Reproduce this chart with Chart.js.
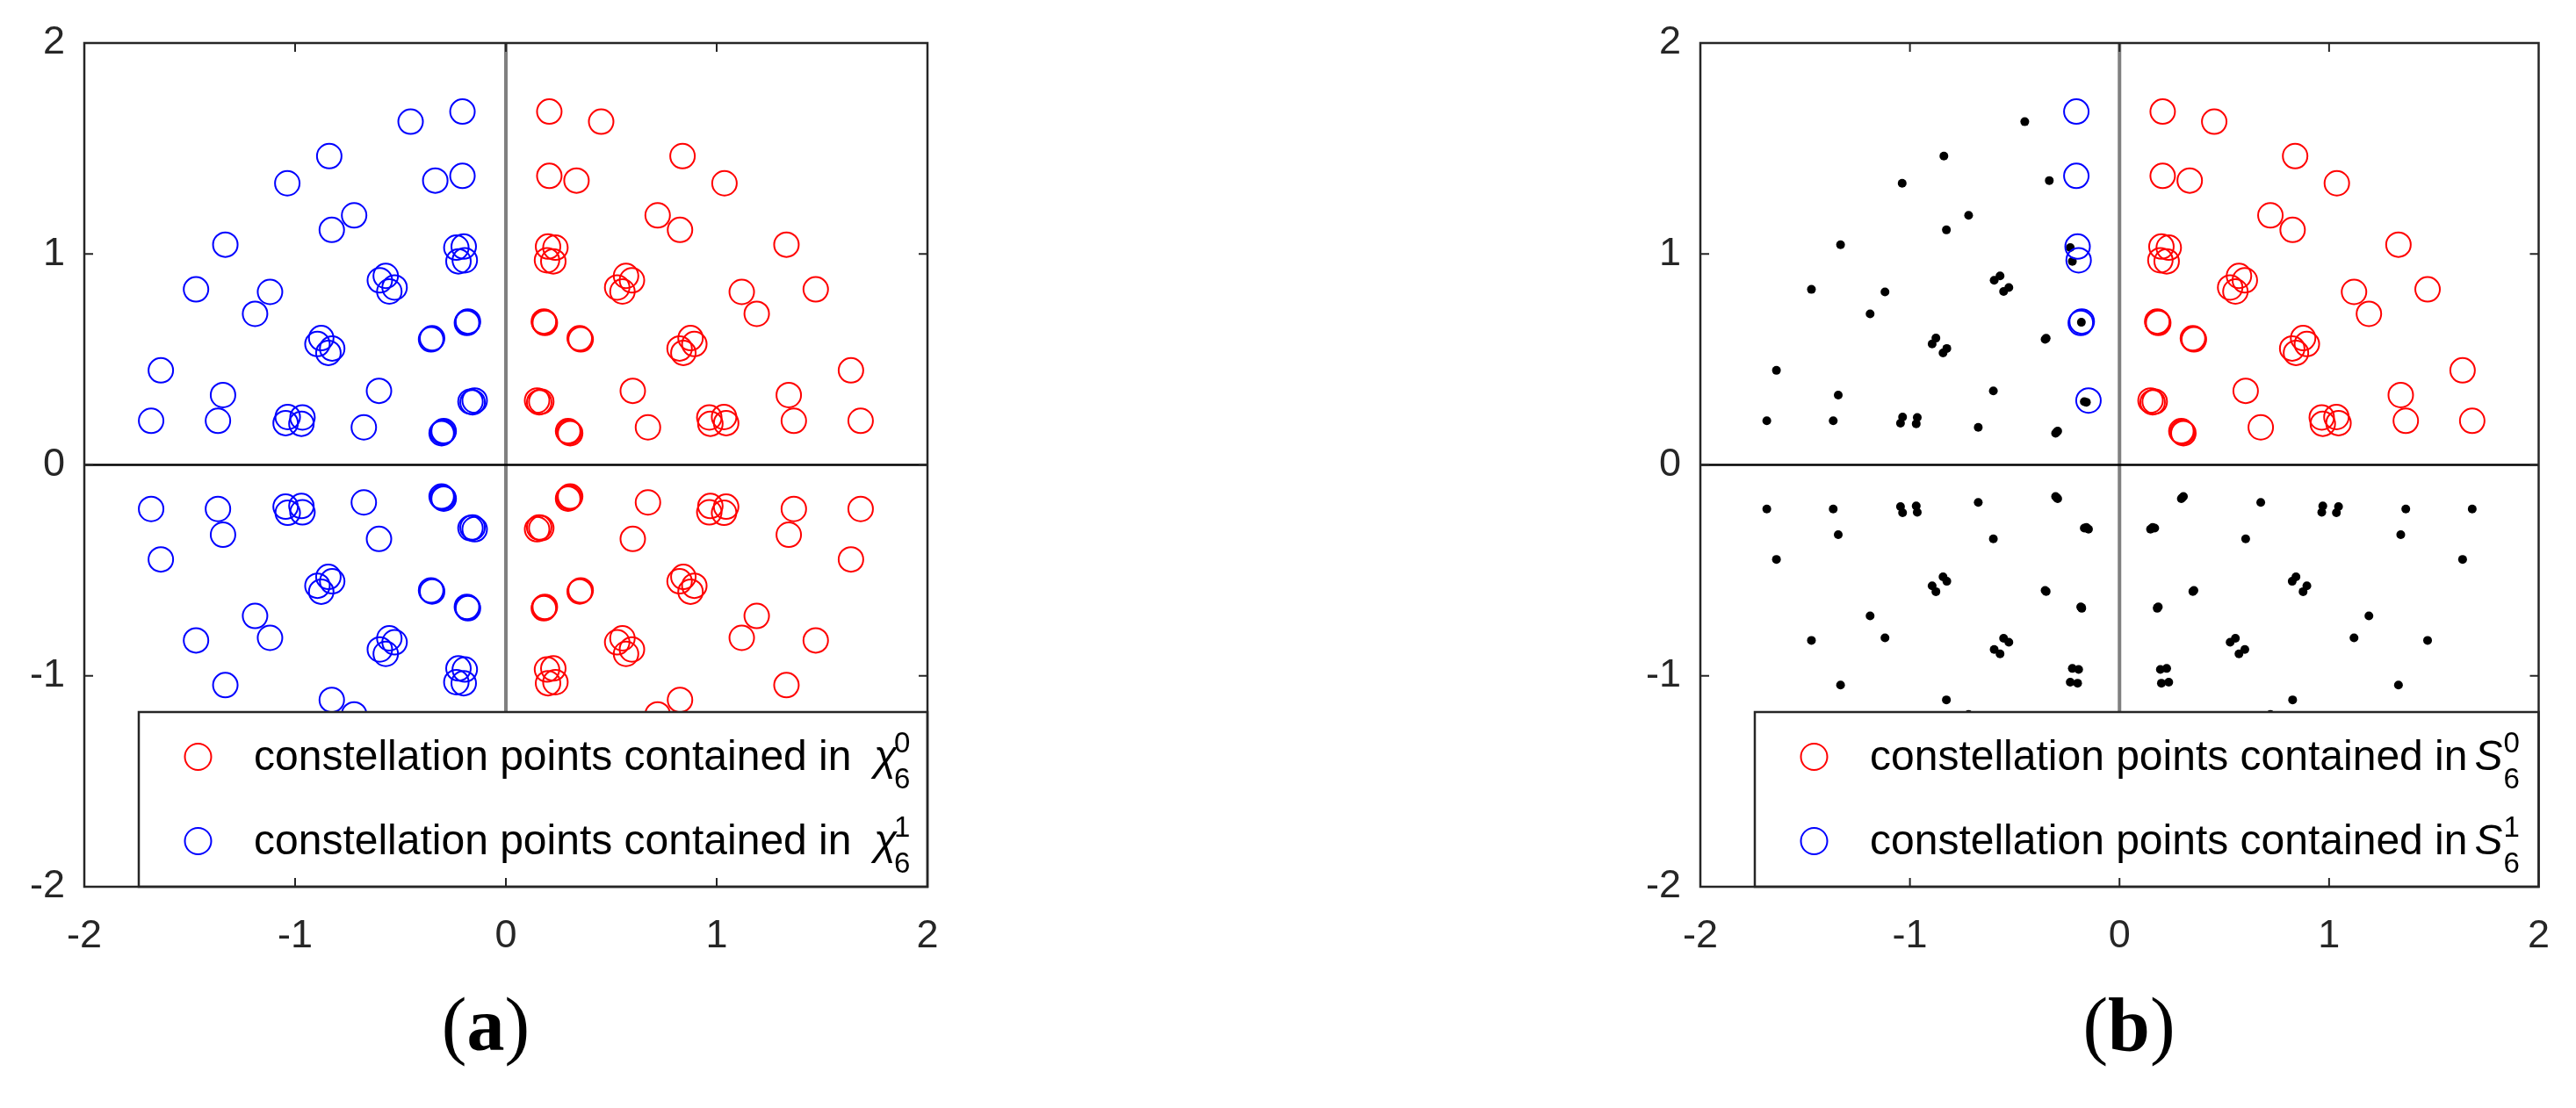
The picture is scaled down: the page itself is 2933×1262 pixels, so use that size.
<!DOCTYPE html>
<html lang="en">
<head>
  <meta charset="UTF-8">
  <title>Constellation points</title>
  <script src="https://cdn.jsdelivr.net/npm/chart.js"></script>
  <style>
    html, body {
      margin: 0;
      padding: 0;
      background: #fff;
      overflow: hidden;
    }
    body {
      width: 2933px;
      height: 1262px;
      position: relative;
    }
    canvas {
      position: absolute;
      top: 0;
    }
    #chartA { left: 0; }
    #chartB { left: 1840px; }
    .caption {
      position: absolute;
      top: 1119px;
      font-family: "Liberation Serif", "Times New Roman", serif;
      font-size: 86px;
      line-height: 96px;
      transform: translateX(-50%);
      color: #000;
    }
  </style>
</head>
<body>
  <canvas id="chartA" width="1100" height="1110"></canvas>
  <canvas id="chartB" width="1093" height="1110"></canvas>
  <div class="caption" style="left:553px">(<b>a</b>)</div>
  <div class="caption" style="left:2424px">(<b>b</b>)</div>

  <script>
    // axis ticks
    const tickValues = [-2, -1, 0, 1, 2];

    // (a) points in chi_6^0 (red) : upper right, then lower right
    const chi0X = [
      0.206, 0.452, 0.838, 1.037, 0.206, 0.335, 0.720, 0.826, 1.331, 1.470, 1.119, 1.190,
      0.200, 0.235, 0.195, 0.225, 0.570, 0.598, 0.528, 0.553, 0.180, 0.185, 0.182, 0.350, 0.355,
      0.876, 0.894, 0.824, 0.842, 0.602, 0.674, 0.965, 0.970, 1.035, 1.045,
      1.342, 1.366, 1.637, 1.683, 0.148, 0.158, 0.168, 0.295, 0.300, 0.305,
      0.206, 0.452, 0.838, 1.037, 0.206, 0.335, 0.720, 0.826, 1.331, 1.470, 1.119, 1.190,
      0.200, 0.235, 0.195, 0.225, 0.570, 0.598, 0.528, 0.553, 0.180, 0.185, 0.182, 0.350, 0.355,
      0.876, 0.894, 0.824, 0.842, 0.602, 0.674, 0.965, 0.970, 1.035, 1.045,
      1.342, 1.366, 1.637, 1.683, 0.148, 0.158, 0.168, 0.295, 0.300, 0.305
    ];
    const chi0Y = [
      1.675, 1.627, 1.464, 1.335, 1.370, 1.348, 1.183, 1.114, 1.044, 0.832, 0.820, 0.716,
      1.035, 1.030, 0.970, 0.965, 0.896, 0.875, 0.841, 0.822, 0.680, 0.673, 0.676, 0.600, 0.595,
      0.601, 0.573, 0.552, 0.531, 0.351, 0.178, 0.225, 0.195, 0.227, 0.198,
      0.331, 0.209, 0.448, 0.209, 0.305, 0.297, 0.300, 0.160, 0.155, 0.150,
      -1.675, -1.627, -1.464, -1.335, -1.370, -1.348, -1.183, -1.114, -1.044, -0.832, -0.820, -0.716,
      -1.035, -1.030, -0.970, -0.965, -0.896, -0.875, -0.841, -0.822, -0.680, -0.673, -0.676, -0.600, -0.595,
      -0.601, -0.573, -0.552, -0.531, -0.351, -0.178, -0.225, -0.195, -0.227, -0.198,
      -0.331, -0.209, -0.448, -0.209, -0.305, -0.297, -0.300, -0.160, -0.155, -0.150
    ];

    // (a) points in chi_6^1 (blue) : upper left, then lower left
    const chi1X = [
      -0.206, -0.452, -0.838, -1.037, -0.206, -0.335, -0.720, -0.826, -1.331, -1.470, -1.119, -1.190,
      -0.200, -0.235, -0.195, -0.225, -0.570, -0.598, -0.528, -0.553, -0.180, -0.185, -0.182, -0.350, -0.355,
      -0.876, -0.894, -0.824, -0.842, -0.602, -0.674, -0.965, -0.970, -1.035, -1.045,
      -1.342, -1.366, -1.637, -1.683, -0.148, -0.158, -0.168, -0.295, -0.300, -0.305,
      -0.206, -0.452, -0.838, -1.037, -0.206, -0.335, -0.720, -0.826, -1.331, -1.470, -1.119, -1.190,
      -0.200, -0.235, -0.195, -0.225, -0.570, -0.598, -0.528, -0.553, -0.180, -0.185, -0.182, -0.350, -0.355,
      -0.876, -0.894, -0.824, -0.842, -0.602, -0.674, -0.965, -0.970, -1.035, -1.045,
      -1.342, -1.366, -1.637, -1.683, -0.148, -0.158, -0.168, -0.295, -0.300, -0.305
    ];
    const chi1Y = [
      1.675, 1.627, 1.464, 1.335, 1.370, 1.348, 1.183, 1.114, 1.044, 0.832, 0.820, 0.716,
      1.035, 1.030, 0.970, 0.965, 0.896, 0.875, 0.841, 0.822, 0.680, 0.673, 0.676, 0.600, 0.595,
      0.601, 0.573, 0.552, 0.531, 0.351, 0.178, 0.225, 0.195, 0.227, 0.198,
      0.331, 0.209, 0.448, 0.209, 0.305, 0.297, 0.300, 0.160, 0.155, 0.150,
      -1.675, -1.627, -1.464, -1.335, -1.370, -1.348, -1.183, -1.114, -1.044, -0.832, -0.820, -0.716,
      -1.035, -1.030, -0.970, -0.965, -0.896, -0.875, -0.841, -0.822, -0.680, -0.673, -0.676, -0.600, -0.595,
      -0.601, -0.573, -0.552, -0.531, -0.351, -0.178, -0.225, -0.195, -0.227, -0.198,
      -0.331, -0.209, -0.448, -0.209, -0.305, -0.297, -0.300, -0.160, -0.155, -0.150
    ];

    // (b) points in S_6^0 (red)
    const s0X = [
      0.206, 0.452, 0.838, 1.037, 0.206, 0.335, 0.720, 0.826, 1.331, 1.470, 1.119, 1.190,
      0.200, 0.235, 0.195, 0.225, 0.570, 0.598, 0.528, 0.553, 0.180, 0.185, 0.182, 0.350, 0.355,
      0.876, 0.894, 0.824, 0.842, 0.602, 0.674, 0.965, 0.970, 1.035, 1.045,
      1.342, 1.366, 1.637, 1.683, 0.148, 0.158, 0.168, 0.295, 0.300, 0.305
    ];
    const s0Y = [
      1.675, 1.627, 1.464, 1.335, 1.370, 1.348, 1.183, 1.114, 1.044, 0.832, 0.820, 0.716,
      1.035, 1.030, 0.970, 0.965, 0.896, 0.875, 0.841, 0.822, 0.680, 0.673, 0.676, 0.600, 0.595,
      0.601, 0.573, 0.552, 0.531, 0.351, 0.178, 0.225, 0.195, 0.227, 0.198,
      0.331, 0.209, 0.448, 0.209, 0.305, 0.297, 0.300, 0.160, 0.155, 0.150
    ];

    // (b) points in S_6^1 (blue)
    const s1X = [-0.206, -0.206, -0.200, -0.195, -0.180, -0.185, -0.148];
    const s1Y = [1.675, 1.370, 1.035, 0.970, 0.680, 0.673, 0.305];

    // (b) remaining constellation points (black dots)
    const restX = [
      -0.452, -0.838, -1.037, -0.335, -0.720, -0.826, -1.331, -1.470, -1.119, -1.190,
      -0.235, -0.225, -0.570, -0.598, -0.528, -0.553, -0.182, -0.350, -0.355,
      -0.876, -0.894, -0.824, -0.842, -0.602, -0.674, -0.965, -0.970, -1.035, -1.045,
      -1.342, -1.366, -1.637, -1.683, -0.158, -0.168, -0.295, -0.300, -0.305,
      -0.206, -0.452, -0.838, -1.037, -0.206, -0.335, -0.720, -0.826, -1.331, -1.470, -1.119, -1.190,
      -0.200, -0.235, -0.195, -0.225, -0.570, -0.598, -0.528, -0.553, -0.180, -0.185, -0.182, -0.350, -0.355,
      -0.876, -0.894, -0.824, -0.842, -0.602, -0.674, -0.965, -0.970, -1.035, -1.045,
      -1.342, -1.366, -1.637, -1.683, -0.148, -0.158, -0.168, -0.295, -0.300, -0.305,
      0.206, 0.452, 0.838, 1.037, 0.206, 0.335, 0.720, 0.826, 1.331, 1.470, 1.119, 1.190,
      0.200, 0.235, 0.195, 0.225, 0.570, 0.598, 0.528, 0.553, 0.180, 0.185, 0.182, 0.350, 0.355,
      0.876, 0.894, 0.824, 0.842, 0.602, 0.674, 0.965, 0.970, 1.035, 1.045,
      1.342, 1.366, 1.637, 1.683, 0.148, 0.158, 0.168, 0.295, 0.300, 0.305
    ];
    const restY = [
      1.627, 1.464, 1.335, 1.348, 1.183, 1.114, 1.044, 0.832, 0.820, 0.716,
      1.030, 0.965, 0.896, 0.875, 0.841, 0.822, 0.676, 0.600, 0.595,
      0.601, 0.573, 0.552, 0.531, 0.351, 0.178, 0.225, 0.195, 0.227, 0.198,
      0.331, 0.209, 0.448, 0.209, 0.297, 0.300, 0.160, 0.155, 0.150,
      -1.675, -1.627, -1.464, -1.335, -1.370, -1.348, -1.183, -1.114, -1.044, -0.832, -0.820, -0.716,
      -1.035, -1.030, -0.970, -0.965, -0.896, -0.875, -0.841, -0.822, -0.680, -0.673, -0.676, -0.600, -0.595,
      -0.601, -0.573, -0.552, -0.531, -0.351, -0.178, -0.225, -0.195, -0.227, -0.198,
      -0.331, -0.209, -0.448, -0.209, -0.305, -0.297, -0.300, -0.160, -0.155, -0.150,
      -1.675, -1.627, -1.464, -1.335, -1.370, -1.348, -1.183, -1.114, -1.044, -0.832, -0.820, -0.716,
      -1.035, -1.030, -0.970, -0.965, -0.896, -0.875, -0.841, -0.822, -0.680, -0.673, -0.676, -0.600, -0.595,
      -0.601, -0.573, -0.552, -0.531, -0.351, -0.178, -0.225, -0.195, -0.227, -0.198,
      -0.331, -0.209, -0.448, -0.209, -0.305, -0.297, -0.300, -0.160, -0.155, -0.150
    ];

    const legendA = [
      { color: "#ff0000", text: "constellation points contained in", sym: "χ", sup: "0", sub: "6" },
      { color: "#0000ff", text: "constellation points contained in", sym: "χ", sup: "1", sub: "6" }
    ];
    const legendB = [
      { color: "#ff0000", text: "constellation points contained in", sym: "S", sup: "0", sub: "6" },
      { color: "#0000ff", text: "constellation points contained in", sym: "S", sup: "1", sub: "6" }
    ];

    const SANS = '"Liberation Sans", Arial, Helvetica, sans-serif';
    const toPoints = (xs, ys) => xs.map((x, i) => ({ x: x, y: ys[i] }));

    // matlab-like frame : zero lines, box, inward ticks, legend box
    const matlabFrame = {
      id: "matlabFrame",
      beforeDatasetsDraw(chart) {
        const { ctx, chartArea: a, scales } = chart;
        const x0 = scales.x.getPixelForValue(0);
        const y0 = scales.y.getPixelForValue(0);
        ctx.save();
        ctx.strokeStyle = "#808080";
        ctx.lineWidth = 4;
        ctx.beginPath();
        ctx.moveTo(x0, a.top);
        ctx.lineTo(x0, a.bottom);
        ctx.stroke();
        ctx.strokeStyle = "#000";
        ctx.lineWidth = 2.5;
        ctx.beginPath();
        ctx.moveTo(a.left, y0);
        ctx.lineTo(a.right, y0);
        ctx.stroke();
        ctx.restore();
      },
      afterDatasetsDraw(chart, args, opts) {
        const { ctx, chartArea: a } = chart;
        const left = a.left + 62, top = a.top + 762;
        const right = a.right, bottom = a.bottom;
        ctx.save();
        ctx.fillStyle = "#fff";
        ctx.fillRect(left, top, right - left, bottom - top);
        ctx.strokeStyle = "#262626";
        ctx.lineWidth = 2.5;
        ctx.strokeRect(left, top, right - left, bottom - top);
        ctx.textAlign = "left";
        ctx.textBaseline = "alphabetic";
        opts.entries.forEach((e, i) => {
          const dy = i * 96;
          ctx.beginPath();
          ctx.arc(left + 67.5, top + 51 + dy, 15, 0, Math.PI * 2);
          ctx.lineWidth = 2;
          ctx.strokeStyle = e.color;
          ctx.stroke();
          ctx.fillStyle = "#000";
          ctx.font = "48px " + SANS;
          ctx.fillText(e.text, left + 131, top + 66 + dy);
          ctx.font = "italic 48px " + SANS;
          ctx.fillText(e.sym, right - opts.symOffset, top + 66 + dy);
          ctx.font = "33px " + SANS;
          ctx.fillText(e.sup, right - opts.scriptOffset, top + 46 + dy);
          ctx.fillText(e.sub, right - opts.scriptOffset, top + 87 + dy);
        });
        ctx.restore();
      },
      afterDraw(chart) {
        const { ctx, chartArea: a, scales } = chart;
        ctx.save();
        ctx.strokeStyle = "#262626";
        ctx.lineWidth = 2.5;
        ctx.strokeRect(a.left, a.top, a.right - a.left, a.bottom - a.top);
        ctx.lineWidth = 2;
        ctx.beginPath();
        [-1, 0, 1].forEach(v => {
          const px = scales.x.getPixelForValue(v);
          const py = scales.y.getPixelForValue(v);
          ctx.moveTo(px, a.top); ctx.lineTo(px, a.top + 10);
          ctx.moveTo(px, a.bottom); ctx.lineTo(px, a.bottom - 10);
          ctx.moveTo(a.left, py); ctx.lineTo(a.left + 10, py);
          ctx.moveTo(a.right, py); ctx.lineTo(a.right - 10, py);
        });
        ctx.stroke();
        ctx.restore();
      }
    };

    function makeScales() {
      const common = {
        type: "linear",
        min: -2,
        max: 2,
        afterBuildTicks: s => { s.ticks = tickValues.map(v => ({ value: v })); },
        grid: { display: false, drawTicks: false },
        border: { display: false }
      };
      return {
        x: Object.assign({}, common, {
          ticks: { color: "#262626", font: { family: SANS, size: 45 }, padding: 30 },
          afterFit: s => { s.height = 100; }
        }),
        y: Object.assign({}, common, {
          ticks: { color: "#262626", font: { family: SANS, size: 45 }, padding: 22 },
          afterFit: s => { s.width = 96; }
        })
      };
    }

    function ringSet(points, color) {
      return {
        data: points,
        pointStyle: "circle",
        pointRadius: 14,
        pointBorderWidth: 2,
        pointBorderColor: color,
        pointBackgroundColor: "rgba(0,0,0,0)"
      };
    }

    function makeChart(id, datasets, entries, rightPad, symOffset, scriptOffset) {
      return new Chart(document.getElementById(id), {
        type: "scatter",
        data: { datasets: datasets },
        options: {
          responsive: false,
          animation: false,
          events: [],
          layout: { padding: { top: 49, right: rightPad, left: 0, bottom: 0 } },
          plugins: {
            legend: { display: false },
            tooltip: { enabled: false },
            matlabFrame: { entries: entries, symOffset: symOffset, scriptOffset: scriptOffset }
          },
          scales: makeScales()
        },
        plugins: [matlabFrame]
      });
    }

    makeChart("chartA", [
      ringSet(toPoints(chi0X, chi0Y), "#ff0000"),
      ringSet(toPoints(chi1X, chi1Y), "#0000ff")
    ], legendA, 44, 61, 38);

    makeChart("chartB", [
      ringSet(toPoints(s0X, s0Y), "#ff0000"),
      ringSet(toPoints(s1X, s1Y), "#0000ff"),
      {
        data: toPoints(restX, restY),
        pointStyle: "circle",
        pointRadius: 5,
        pointBorderWidth: 0,
        pointBackgroundColor: "#000"
      }
    ], legendB, 37, 73, 40);
  </script>
</body>
</html>
